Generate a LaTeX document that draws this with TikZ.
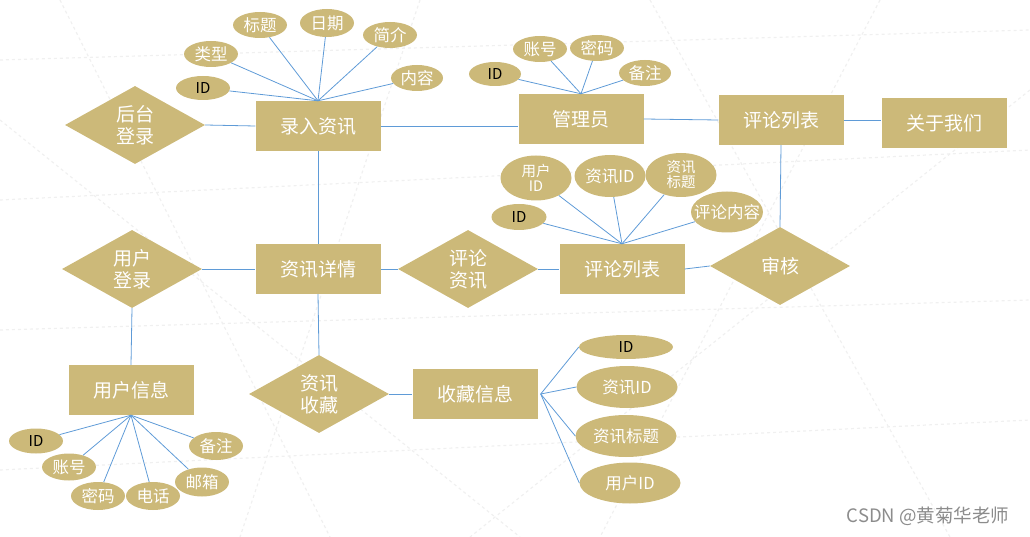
\documentclass[tikz,border=0pt]{standalone}
\usepackage{fontspec}
\setmainfont{Noto Sans CJK SC}
\usetikzlibrary{shapes.geometric}

\definecolor{gold}{RGB}{204,185,121}
\definecolor{linkblue}{RGB}{95,155,215}

\begin{document}
\begin{tikzpicture}[x=1pt, y=-1pt,
    entity/.style={fill=gold, minimum width=125pt, minimum height=50pt, inner sep=0pt,
        text=white, font=\fontsize{19}{21}\selectfont},
    relation/.style={diamond, fill=gold, minimum width=140pt, minimum height=78pt,
        shape aspect=1.8, inner sep=0pt, text=white, align=center,
        font=\fontsize{19}{22}\selectfont},
    attr/.style={ellipse, fill=gold, minimum width=54pt, minimum height=26pt,
        inner xsep=-14pt, inner ysep=-6pt, text=white, align=center,
        font=\fontsize{16.5}{17}\selectfont},
    keyattr/.style={attr, text=black, font=\fontsize{15}{16}\selectfont},
    small/.style={font=\fontsize{14.5}{15}\selectfont},
    link/.style={linkblue, line width=0.8pt}]
    \useasboundingbox (0,0) rectangle (1030,537);

    % Faint dashed background
    \foreach \a/\b in {{(0,60)/(1030,30)}, {(0,200)/(1030,150)}, {(0,330)/(1030,300)},
        {(0,470)/(1030,420)}, {(60,0)/(330,537)}, {(420,0)/(240,537)}, {(650,0)/(950,537)},
        {(880,0)/(600,537)}, {(0,120)/(520,537)}, {(1030,90)/(470,537)}} {
        \draw[black!6, dashed, line width=1.2pt] \a -- \b;
    }

    % Entities
    \node[entity] (lr)  at (318,126) {录入资讯};
    \node[entity] (gly) at (581,119) {管理员};
    \node[entity] (plt) at (781,120) {评论列表};
    \node[entity] (gy)  at (944,123) {关于我们};
    \node[entity] (xq)  at (318,269) {资讯详情};
    \node[entity] (plm) at (622,269) {评论列表};
    \node[entity] (yh)  at (131,390) {用户信息};
    \node[entity] (sc)  at (475,394) {收藏信息};

    % Relations
    \node[relation] (htdl) at (135,125) {后台\\登录};
    \node[relation] (yhdl) at (132,269) {用户\\登录};
    \node[relation] (plzx) at (468,269) {评论\\资讯};
    \node[relation] (sh)   at (780,266) {审核};
    \node[relation] (zxsc) at (319,394) {资讯\\收藏};

    % Links between entities and relations
    \draw[link] (htdl.east) -- (lr.west);
    \draw[link] (lr.east) -- (lr.east -| gly.west);
    \draw[link] (gly.east) -- (plt.west);
    \draw[link] (plt.east) -- (plt.east -| gy.west);
    \draw[link] (plt.south) -- (sh.north);
    \draw[link] (lr.south) -- (xq.north);
    \draw[link] (yhdl.east) -- (xq.west);
    \draw[link] (xq.east) -- (plzx.west);
    \draw[link] (plzx.east) -- (plm.west);
    \draw[link] (plm.east) -- (sh.west);
    \draw[link] (yhdl.south) -- (yh.north);
    \draw[link] (xq.south) -- (zxsc.north);
    \draw[link] (zxsc.east) -- (sc.west);

    % Attributes of 录入资讯
    \node[keyattr, minimum height=24pt] (lr1) at (203,88) {ID};
    \node[attr] (lr2) at (211,54) {类型};
    \node[attr] (lr3) at (260,25) {标题};
    \node[attr, minimum height=28pt] (lr4) at (327,23) {日期};
    \node[attr] (lr5) at (390,35) {简介};
    \node[attr, minimum width=52pt] (lr6) at (417,78) {内容};
    \foreach \n in {lr1,lr2,lr3,lr4,lr5,lr6}
        \draw[link] (\n) -- (lr.north);

    % Attributes of 管理员
    \node[keyattr, minimum width=52pt, minimum height=24pt] (gly1) at (495,74) {ID};
    \node[attr] (gly2) at (540,49) {账号};
    \node[attr] (gly3) at (597,48) {密码};
    \node[attr, minimum width=52pt] (gly4) at (645,73) {备注};
    \foreach \n in {gly1,gly2,gly3,gly4}
        \draw[link] (\n) -- (gly.north);

    % Attributes of 评论列表
    \node[keyattr, minimum width=55pt] (plm1) at (519,217) {ID};
    \node[attr, small, minimum width=71pt, minimum height=45pt] (plm2) at (536,178) {用户\\ID};
    \node[attr, minimum width=71pt, minimum height=42pt] (plm3) at (610,176) {资讯ID};
    \node[attr, small, minimum width=71pt, minimum height=44pt] (plm4) at (681,175) {资讯\\标题};
    \node[attr, minimum width=72pt, minimum height=41pt] (plm5) at (727,212) {评论内容};
    \foreach \n in {plm1,plm2,plm3,plm4,plm5}
        \draw[link] (\n) -- (plm.north);

    % Attributes of 用户信息
    \node[keyattr, minimum height=25pt] (yh1) at (36,441) {ID};
    \node[attr, minimum height=27pt] (yh2) at (69,467) {账号};
    \node[attr, minimum height=28pt] (yh3) at (98,496) {密码};
    \node[attr, minimum height=28pt] (yh4) at (153,496) {电话};
    \node[attr, minimum height=29pt] (yh5) at (202,482) {邮箱};
    \node[attr, minimum height=28pt] (yh6) at (216,446) {备注};
    \foreach \n in {yh1,yh2,yh3,yh4,yh5,yh6}
        \draw[link] (\n) -- (yh.south);

    % Attributes of 收藏信息
    \node[keyattr, minimum width=94pt, minimum height=24pt] (sc1) at (626,347) {ID};
    \node[attr, minimum width=101pt, minimum height=42pt] (sc2) at (627,387) {资讯ID};
    \node[attr, minimum width=101pt, minimum height=42pt] (sc3) at (626,436) {资讯标题};
    \node[attr, minimum width=101pt, minimum height=41pt] (sc4) at (630,483) {用户ID};
    \foreach \n in {sc1,sc2,sc3,sc4}
        \draw[link] ([xshift=3pt]sc.east) -- (\n.west);

    % Watermark
    \node[text=black!45, font=\fontsize{18.5}{20}\selectfont] (mark) at (928,516) {CSDN @黄菊华老师};
\end{tikzpicture}
\end{document}
